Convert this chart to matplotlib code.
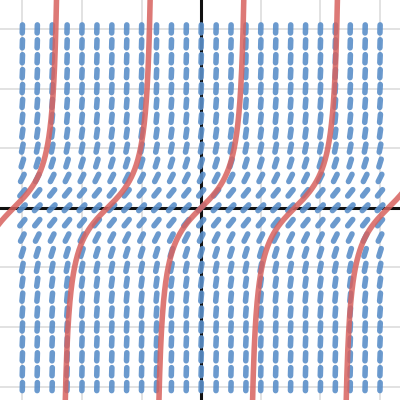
import numpy as np
import matplotlib
matplotlib.use("Agg")
import matplotlib.pyplot as plt
from matplotlib.collections import LineCollection

# slope field dy/dx = 1 + y^2, solution curves y = tan(x - k*pi)
grid_x = np.arange(-6, 6.01, 0.5)
grid_y = np.arange(-6, 6.01, 0.5)
shifts = [-2, -1, 0, 1, 2]
seg_len = 0.27
x_lim = (-6.75, 6.67)
y_lim = (-6.45, 6.97)

fig = plt.figure(figsize=(4, 4), dpi=100)
ax = fig.add_axes([0, 0, 1, 1])
ax.set_xlim(*x_lim)
ax.set_ylim(*y_lim)

for g in np.arange(-6, 7, 2):
    ax.axvline(g, color="#dddddd", lw=1.2, zorder=0)
    ax.axhline(g, color="#dddddd", lw=1.2, zorder=0)
ax.axvline(0, color="#111111", lw=2.2, zorder=1)
ax.axhline(0, color="#111111", lw=2.2, zorder=1)

segs = []
for x in grid_x:
    for y in grid_y:
        m = 1 + y ** 2
        dx = 1 / np.sqrt(1 + m * m) * seg_len / 2
        dy = m * dx
        segs.append([(x - dx, y - dy), (x + dx, y + dy)])
ax.add_collection(LineCollection(segs, colors="#5b8fc9", linewidths=4,
                                 alpha=0.9, capstyle="round", zorder=2))

for k in shifts:
    c = k * np.pi
    xs = np.linspace(c - np.pi / 2 + 0.02, c + np.pi / 2 - 0.02, 500)
    ax.plot(xs, np.tan(xs - c), color="#d7625e", lw=4, alpha=0.85, zorder=3)

ax.axis("off")
fig.savefig("out.png", dpi=100)
